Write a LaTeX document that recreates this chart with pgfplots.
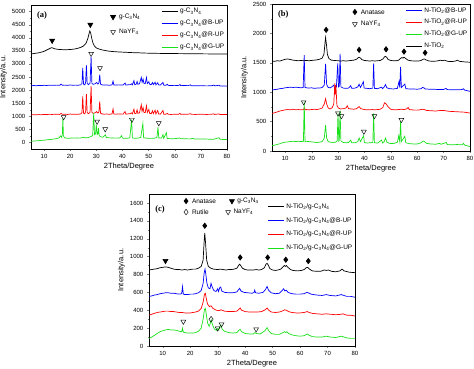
\documentclass[border=0pt]{standalone}
\usepackage{fontspec}
\setmainfont{Liberation Sans}
\newfontfamily\serifbf{Liberation Serif}
\usepackage{pgfplots}
\pgfplotsset{compat=1.18}
\definecolor{cgreen}{RGB}{25,225,25}
\tikzset{lt/.style={font=\fontsize{6.5}{7}\selectfont, anchor=west, inner sep=0pt},
 plab/.style={anchor=west, inner sep=0pt, font=\serifbf\bfseries\fontsize{8.5}{9}\selectfont}}
\pgfplotsset{
 xrd/.style={scale only axis, xmin=5, xmax=80, xtick={10,20,...,80},
  minor x tick num=1, minor y tick num=1, tick align=outside, xtick pos=bottom, ytick pos=left,
  ticklabel style={font=\fontsize{6}{7}\selectfont},
  /pgf/number format/assume math mode=true, /pgf/number format/1000 sep={},
  xlabel={2Theta/Degree}, ylabel={Intensity/a.u.},
  label style={font=\fontsize{7.5}{8}\selectfont},
  xlabel style={yshift=2.5pt}, ylabel style={yshift=-2pt},
  major tick length=2.2pt, minor tick length=1.3pt,
  legend style={draw=none, fill=none, font=\fontsize{6.5}{7}\selectfont, inner sep=0.5pt},
  legend cell align=left,
  legend image code/.code={\draw[##1] (0pt,0pt) -- (16pt,0pt);},
  every axis plot/.append style={line width=0.7pt},
  axis line style={line width=0.7pt}},
 dn/.style={only marks, mark=triangle*, mark size=2.8pt, mark options={rotate=180, fill=black, draw=black}, forget plot},
 up/.style={only marks, mark=triangle, mark size=2.8pt, mark options={rotate=180, fill=white, draw=black, line width=0.45pt}, forget plot},
 an/.style={only marks, mark=diamond*, mark size=2.6pt, mark options={fill=black, draw=black}, forget plot},
 ru/.style={only marks, mark=diamond, mark size=2.8pt, mark options={fill=white, draw=black, line width=0.45pt}, forget plot},
}
\begin{document}
\begin{tikzpicture}
%%%%%%%%%%%%%%%%%%%%%%%%%%%%% (a)
\begin{axis}[xrd, at={(31pt,220pt)}, anchor=south west, width=196pt, height=144pt,
 ymin=-250, ymax=5250, ytick={0,500,...,5000},
 legend style={at={(1,0.995)}, anchor=north east, row sep=1.8pt}]
\addplot[black] coordinates {(5,3385)(6,3395)(7,3410)(8,3425)(9,3450)(10,3480)(11,3530)(12,3580)(12.6,3610)(13,3620)(13.5,3600)(14,3580)(15,3560)(16,3550)(17,3545)(18,3540)(19,3545)(20,3550)(21,3560)(22,3575)(23,3600)(24,3630)(25,3680)(26,3780)(26.7,3950)(27.2,4150)(27.5,4260)(27.8,4200)(28.2,4000)(28.7,3800)(29.3,3680)(30,3610)(31,3570)(32,3540)(33,3520)(34,3500)(35,3485)(36,3475)(38,3460)(40,3450)(42,3440)(44,3430)(46,3425)(48,3415)(50,3410)(55,3400)(60,3395)(65,3390)(70,3385)(75,3380)(80,3375)};
\addlegendentry{g-C\textsubscript{3}N\textsubscript{4}}
\addplot[blue] coordinates {(5,2160)(6,2175)(7,2165)(8,2180)(9,2170)(10,2185)(11,2175)(12,2190)(13,2180)(14,2185)(15,2190)(16,2180)(16.5,2230)(17,2185)(18,2190)(19,2180)(20,2195)(21,2185)(22,2190)(23,2185)(24,2200)(24.5,2250)(24.8,2850)(25.1,2230)(25.6,2200)(25.9,2300)(26.2,2940)(26.5,2250)(27,2210)(27.6,2260)(28.0,3270)(28.3,2260)(28.8,2220)(29.5,2240)(30.1,2290)(30.6,2230)(31.0,2280)(31.3,2590)(31.6,2230)(32.2,2200)(33,2190)(34,2195)(35,2185)(36,2200)(36.4,2340)(36.7,2195)(37.5,2190)(38.5,2200)(39.5,2195)(40.2,2190)(41,2270)(41.3,2190)(42,2200)(43,2210)(43.5,2240)(43.8,2200)(44.4,2360)(44.7,2210)(45.2,2220)(45.6,2330)(45.9,2220)(46.5,2240)(47.2,2480)(47.5,2300)(47.9,2420)(48.2,2260)(48.7,2250)(49.2,2480)(49.5,2250)(50.1,2320)(50.4,2220)(51,2210)(51.5,2290)(51.8,2210)(52.5,2300)(52.8,2200)(53.5,2280)(53.8,2200)(54.5,2190)(55.5,2290)(55.8,2190)(56.5,2180)(57.2,2220)(57.5,2180)(58.5,2175)(60,2170)(61.5,2180)(62,2210)(62.3,2170)(63.5,2175)(65,2170)(66,2200)(66.3,2165)(68,2165)(70,2170)(72,2160)(74,2165)(75,2190)(75.3,2160)(77,2185)(77.3,2155)(79,2160)(80,2150)};
\addlegendentry{g-C\textsubscript{3}N\textsubscript{4}@B-UP}
\addplot[red] coordinates {(5,1050)(6,1060)(7,1055)(8,1065)(9,1060)(10,1070)(11,1065)(12,1075)(13,1070)(14,1075)(15,1080)(16,1070)(16.5,1110)(17,1075)(18,1080)(19,1070)(20,1085)(21,1075)(22,1080)(23,1075)(24,1090)(24.5,1140)(24.8,1760)(25.1,1120)(25.6,1090)(25.9,1190)(26.2,1850)(26.5,1140)(27,1100)(27.6,1150)(28.0,2150)(28.3,1150)(28.8,1110)(29.5,1130)(30.1,1180)(30.6,1120)(31.0,1170)(31.3,1570)(31.6,1120)(32.2,1090)(33,1080)(34,1085)(35,1075)(36,1090)(36.4,1280)(36.7,1085)(37.5,1080)(38.5,1090)(39.5,1085)(40.2,1080)(41,1180)(41.3,1080)(42,1090)(43,1100)(43.5,1130)(43.8,1090)(44.4,1270)(44.7,1100)(45.2,1110)(45.6,1250)(45.9,1110)(46.5,1130)(47.2,1440)(47.5,1190)(47.9,1330)(48.2,1150)(48.7,1140)(49.2,1400)(49.5,1140)(50.1,1260)(50.4,1110)(51,1100)(51.5,1210)(51.8,1100)(52.5,1230)(52.8,1090)(53.5,1220)(53.8,1090)(54.5,1080)(55.5,1220)(55.8,1080)(56.5,1075)(57.2,1110)(57.5,1075)(58.5,1070)(60,1075)(61.5,1080)(62,1110)(62.3,1075)(63.5,1080)(65,1075)(66,1100)(66.3,1075)(68,1070)(70,1080)(72,1070)(74,1075)(75,1095)(75.3,1070)(77,1090)(77.3,1065)(79,1070)(80,1065)};
\addlegendentry{g-C\textsubscript{3}N\textsubscript{4}@R-UP}
\addplot[cgreen] coordinates {(5,40)(6,55)(7,60)(8,70)(9,80)(10,85)(11,100)(12,110)(13,120)(14,135)(15,150)(15.8,180)(16.3,250)(16.7,200)(17.0,300)(17.2,930)(17.4,260)(17.8,180)(18.5,165)(19.5,160)(20.5,170)(21.5,165)(22.5,170)(23.5,165)(24.5,180)(25.2,200)(25.6,175)(26.5,180)(27.3,200)(28.0,230)(28.6,260)(29.0,1130)(29.3,300)(29.7,330)(30.0,680)(30.3,300)(30.6,330)(30.8,560)(31.1,260)(31.8,210)(32.5,200)(33.5,290)(33.8,190)(35,175)(36.3,170)(37.5,165)(39,170)(39.7,260)(40,165)(41.5,160)(42.8,170)(43.5,870)(43.8,170)(45,160)(46.2,170)(47.0,190)(47.8,720)(48.1,180)(49.5,160)(51,155)(52.5,165)(53.2,200)(53.6,580)(53.9,170)(55.0,170)(55.5,300)(55.8,160)(56.8,370)(57.1,150)(58.5,145)(60,145)(62,170)(62.3,140)(64,140)(66,135)(67,160)(67.3,130)(69,130)(71,135)(73,125)(75,125)(77,180)(77.3,120)(78.5,115)(80,110)};
\addlegendentry{g-C\textsubscript{3}N\textsubscript{4}@G-UP}
\addplot[dn] coordinates {(13.1,3890)(27.7,4500)(36.4,4792)};
\addplot[up] coordinates {(28.0,3390)(31.4,2845)(17.5,970)(30.3,800)(33.4,510)(43.6,870)(53.9,740)(36.4,4219)};
\node[lt] at (axis cs:38.6,4792) {g-C\textsubscript{3}N\textsubscript{4}};
\node[lt] at (axis cs:38.6,4219) {NaYF\textsubscript{4}};
\node[plab] at (rel axis cs:0.03,0.93) {(a)};
\end{axis}
%%%%%%%%%%%%%%%%%%%%%%%%%%%%% (b)
\begin{axis}[xrd, at={(272pt,218pt)}, anchor=south west, width=198pt, height=147pt,
 ymin=0, ymax=2500, ytick={0,500,...,2500},
 legend style={at={(1,0.995)}, anchor=north east, row sep=1.6pt}]
\addplot[blue] coordinates {(5,1035)(6,1045)(7,1050)(8,1060)(9,1065)(10,1075)(11,1080)(12,1085)(13,1080)(14,1085)(15,1080)(16,1075)(16.8,1080)(17.2,1630)(17.5,1080)(18,1075)(19,1070)(20,1075)(21,1065)(22,1070)(23,1070)(24,1080)(24.8,1120)(25.3,1480)(25.7,1130)(26.3,1080)(27.2,1075)(28.4,1120)(28.7,1075)(29.4,1090)(29.9,1490)(30.2,1090)(30.5,1100)(30.8,1650)(31.1,1090)(32,1070)(33,1065)(34,1070)(34.8,1110)(35.2,1065)(36.5,1070)(37.5,1090)(38,1135)(38.5,1080)(39.6,1180)(39.9,1070)(41,1065)(42,1060)(43.2,1070)(43.5,1490)(43.8,1065)(45,1060)(46.5,1085)(46.9,1060)(47.5,1090)(48,1130)(48.5,1075)(49.5,1060)(51,1055)(52.5,1065)(53.1,1180)(53.4,1080)(53.7,1430)(54,1080)(55.3,1140)(55.7,1060)(57,1055)(58.5,1055)(60,1050)(61.5,1060)(62,1080)(62.5,1075)(63,1055)(65,1050)(66.5,1050)(68,1045)(70,1045)(70.9,1065)(71.3,1045)(73,1040)(75,1040)(77,1045)(77.5,1060)(78,1035)(80,1015)};
\addlegendentry{N-TiO\textsubscript{2}@B-UP}
\addplot[red] coordinates {(5,640)(6,650)(7,665)(8,680)(9,690)(10,700)(11,705)(12,700)(13,710)(14,700)(15,705)(16,700)(17,705)(17.3,730)(17.6,700)(18,705)(19,700)(20,705)(21,710)(22,705)(23,715)(24,730)(24.8,800)(25.3,890)(25.7,800)(26.3,730)(27,715)(27.8,735)(28.4,800)(28.8,1150)(29.0,960)(29.2,1120)(29.6,770)(30.2,730)(31,715)(32,720)(33,730)(33.5,770)(34,720)(35,715)(36,710)(37,720)(38,755)(38.6,720)(40,705)(41,700)(42,700)(43,705)(44,700)(45,705)(46,710)(47,740)(47.6,820)(48,810)(48.4,790)(49,750)(50,710)(51,700)(52,700)(53,705)(54,710)(55,705)(56,715)(56.6,740)(57,705)(58,700)(59,695)(60,695)(61,700)(62,710)(62.7,705)(63.5,690)(65,685)(67,680)(69,690)(70,690)(72,675)(74,670)(76,665)(78,660)(80,645)};
\addlegendentry{N-TiO\textsubscript{2}@R-UP}
\addplot[cgreen] coordinates {(5,90)(6,100)(7,110)(8,125)(9,140)(10,150)(11,155)(12,160)(13,165)(14,160)(15,165)(16,160)(16.9,165)(17.2,840)(17.5,160)(18,165)(19,160)(20,155)(21,150)(22,145)(23,150)(24,160)(24.8,220)(25.3,440)(25.7,220)(26.3,160)(27,150)(28,145)(29,150)(29.7,170)(30.0,640)(30.3,170)(30.5,180)(30.8,690)(31.1,170)(32,145)(33,140)(34,145)(34.8,185)(35.2,140)(36.5,140)(37.5,160)(38,220)(38.5,160)(39.7,260)(40,145)(41,135)(42,140)(43.2,145)(43.5,640)(43.8,140)(45,135)(46.5,185)(46.9,135)(47.5,160)(48,220)(48.5,150)(49.5,130)(51,125)(52.5,150)(53.0,260)(53.4,160)(53.7,500)(54,160)(55.3,250)(55.7,140)(57,125)(58.5,120)(60,120)(61.5,140)(62.2,170)(62.7,160)(63.5,130)(65,120)(67,115)(68.5,130)(69,115)(71,145)(71.4,110)(73,105)(75,110)(77,105)(77.5,130)(78,100)(80,75)};
\addlegendentry{N-TiO\textsubscript{2}@G-UP}
\addplot[black] coordinates {(5,1530)(6,1525)(7,1535)(8,1530)(9,1545)(10,1560)(11,1565)(12,1555)(13,1545)(14,1540)(15,1535)(16,1540)(17,1535)(18,1540)(19,1535)(20,1540)(21,1545)(22,1550)(23,1560)(24,1580)(24.7,1650)(25.1,1850)(25.3,1930)(25.6,1820)(26,1640)(26.6,1570)(27.5,1545)(28.5,1540)(30,1535)(31,1530)(32,1535)(33,1530)(34,1535)(35,1540)(36,1545)(37,1560)(37.6,1585)(38,1595)(38.5,1580)(39,1555)(40,1540)(41,1535)(42,1530)(43,1535)(44,1530)(45,1535)(46,1540)(47,1565)(47.6,1600)(48,1610)(48.5,1590)(49,1555)(50,1540)(51,1535)(52,1535)(53,1545)(53.7,1575)(54.2,1590)(54.6,1580)(55,1595)(55.6,1575)(56.5,1545)(57.5,1535)(59,1530)(60.5,1530)(61.5,1540)(62.2,1560)(62.7,1565)(63.3,1550)(64.5,1530)(66,1525)(67.5,1530)(68.8,1545)(69.5,1535)(70.3,1545)(71.5,1525)(73,1520)(74.5,1530)(75.2,1545)(76,1525)(78,1515)(80,1510)};
\addlegendentry{N-TiO\textsubscript{2}}
\addplot[an] coordinates {(25.5,2060)(38,1720)(48.2,1730)(55,1690)(63,1670)(36.4,2364)};
\addplot[up] coordinates {(17.0,830)(30.0,640)(31.3,595)(39.8,330)(43.8,595)(54,530)(36.4,2159)};
\node[lt] at (axis cs:38.6,2364) {Anatase};
\node[lt] at (axis cs:38.6,2159) {NaYF\textsubscript{4}};
\node[plab] at (rel axis cs:0.03,0.93) {(b)};
\end{axis}
%%%%%%%%%%%%%%%%%%%%%%%%%%%%% (c)
\begin{axis}[xrd, at={(149pt,23pt)}, anchor=south west, width=206pt, height=152pt,
 ymin=0, ymax=1700, ytick={0,200,...,1600},
 legend style={at={(1,0.955)}, anchor=north east, row sep=3.6pt}]
\addplot[black] coordinates {(5,850)(6,855)(7,860)(8,865)(9,875)(10,880)(11,885)(12,880)(13,870)(14,860)(15,855)(16,855)(17,850)(18,855)(19,850)(20,855)(21,860)(22,860)(23,870)(24,890)(24.7,960)(25.1,1180)(25.3,1265)(25.6,1150)(26,960)(26.6,890)(27.5,870)(28.5,860)(30,855)(31,860)(32,855)(33,850)(34,855)(35,855)(36,860)(37,870)(37.6,900)(38,915)(38.5,895)(39,870)(40,855)(41,850)(42,850)(43,850)(44,855)(45,850)(46,855)(47,875)(47.6,915)(48,925)(48.5,900)(49,865)(50,850)(51,845)(52,850)(53,860)(53.8,885)(54.3,900)(54.7,890)(55,900)(55.6,880)(56.5,855)(57.5,845)(59,840)(60.5,845)(61.5,855)(62.2,875)(62.8,880)(63.4,860)(64.5,840)(66,835)(67.5,835)(68.8,850)(69.5,845)(70.3,850)(71.5,835)(73,830)(74.5,840)(75.3,860)(76,840)(78,825)(80,820)};
\addlegendentry{N-TiO\textsubscript{2}/g-C\textsubscript{3}N\textsubscript{4}}
\addplot[blue] coordinates {(5,555)(6,560)(7,570)(8,575)(9,585)(10,590)(11,595)(12,595)(13,590)(14,590)(15,585)(16,580)(16.9,585)(17.2,665)(17.5,580)(18,575)(19,575)(20,580)(21,580)(22,585)(23,595)(24,620)(24.7,700)(25.1,820)(25.4,860)(25.7,800)(26.1,700)(26.6,650)(27.2,640)(27.6,700)(28,660)(28.6,620)(29.4,610)(30,640)(30.3,610)(30.8,655)(31.1,660)(31.5,615)(32.5,600)(34,595)(35.5,595)(37,605)(37.6,630)(38,645)(38.5,615)(39.5,600)(41,595)(42.5,590)(43.3,600)(43.5,625)(43.8,595)(45,590)(46.5,600)(47.4,630)(48,665)(48.5,625)(49.5,595)(51,585)(52.5,590)(53.6,625)(54,640)(54.5,615)(55,625)(55.6,600)(57,585)(58.5,580)(60,580)(61.5,585)(62.5,600)(63,595)(64,580)(66,570)(68,565)(69.5,575)(71,565)(73,560)(75,575)(75.5,570)(77,555)(78.5,555)(80,545)};
\addlegendentry{N-TiO\textsubscript{2}/g-C\textsubscript{3}N\textsubscript{4}@B-UP}
\addplot[red] coordinates {(5,345)(6,355)(7,365)(8,375)(9,380)(10,385)(11,390)(12,390)(13,385)(14,385)(15,380)(16,375)(17,375)(18,370)(19,370)(20,370)(21,375)(22,380)(23,390)(24,420)(24.7,490)(25.2,580)(25.5,590)(25.8,540)(26.3,470)(27,440)(27.6,450)(28.3,420)(29.5,400)(30.5,395)(31.2,405)(32.5,390)(34,385)(35.5,385)(37,390)(37.7,410)(38.2,425)(38.7,400)(40,385)(41.5,380)(43,380)(44.5,380)(46,385)(47.3,405)(48,425)(48.6,400)(49.5,380)(51,375)(52.5,380)(53.8,395)(54.4,405)(55,400)(55.8,385)(57,375)(58.5,370)(60,370)(61.5,375)(62.6,385)(63.3,375)(64.5,365)(66,360)(68,355)(69.5,360)(71,355)(73,350)(75,355)(75.6,360)(77,345)(78.5,345)(80,335)};
\addlegendentry{N-TiO\textsubscript{2}/g-C\textsubscript{3}N\textsubscript{4}@R-UP}
\addplot[cgreen] coordinates {(5,85)(6,100)(7,120)(8,140)(9,160)(10,170)(11,180)(12,185)(13,180)(14,180)(15,175)(16,165)(16.9,160)(17.2,200)(17.5,155)(18,150)(19,145)(20,145)(21,145)(22,150)(23,165)(24,200)(24.7,300)(25.2,410)(25.5,420)(25.8,370)(26.3,260)(26.9,220)(27.4,260)(27.7,290)(28.1,240)(28.8,190)(29.5,175)(30,195)(30.4,180)(30.9,225)(31.2,235)(31.6,190)(32.5,165)(34,150)(35.5,145)(37,150)(37.7,175)(38.2,185)(38.7,160)(40,140)(41.5,135)(43,135)(43.6,150)(44,140)(45.5,135)(47.2,170)(48,205)(48.6,170)(49.5,140)(51,130)(52.5,130)(53.8,150)(54.3,160)(54.8,150)(55.2,160)(55.8,140)(57,125)(58.5,115)(60,110)(61.5,115)(62.6,135)(63.3,120)(64.5,105)(66,100)(68,100)(69.5,110)(71,100)(73,95)(75,110)(75.6,105)(77,90)(78.5,85)(80,85)};
\addlegendentry{N-TiO\textsubscript{2}/g-C\textsubscript{3}N\textsubscript{4}@G-UP}
\addplot[dn] coordinates {(11,953)(35.2,1621)};
\addplot[an] coordinates {(25.3,1345)(38.2,990)(48.2,990)(54.8,965)(63,950)(18.5,1621)};
\addplot[ru] coordinates {(27.6,300)(18.5,1498)};
\addplot[up] coordinates {(17.5,273)(30,198)(31.4,243)(44,187)(33.8,1498)};
\node[lt] at (axis cs:20.6,1621) {Anatase};
\node[lt] at (axis cs:37.1,1621) {g-C\textsubscript{3}N\textsubscript{4}};
\node[lt] at (axis cs:20.6,1498) {Rutile};
\node[lt] at (axis cs:35.7,1498) {NaYF\textsubscript{4}};
\node[plab] at (rel axis cs:0.03,0.9) {(c)};
\end{axis}
\pgfresetboundingbox
\path[use as bounding box] (0,0) rectangle (474pt,369pt);
\end{tikzpicture}
\end{document}
